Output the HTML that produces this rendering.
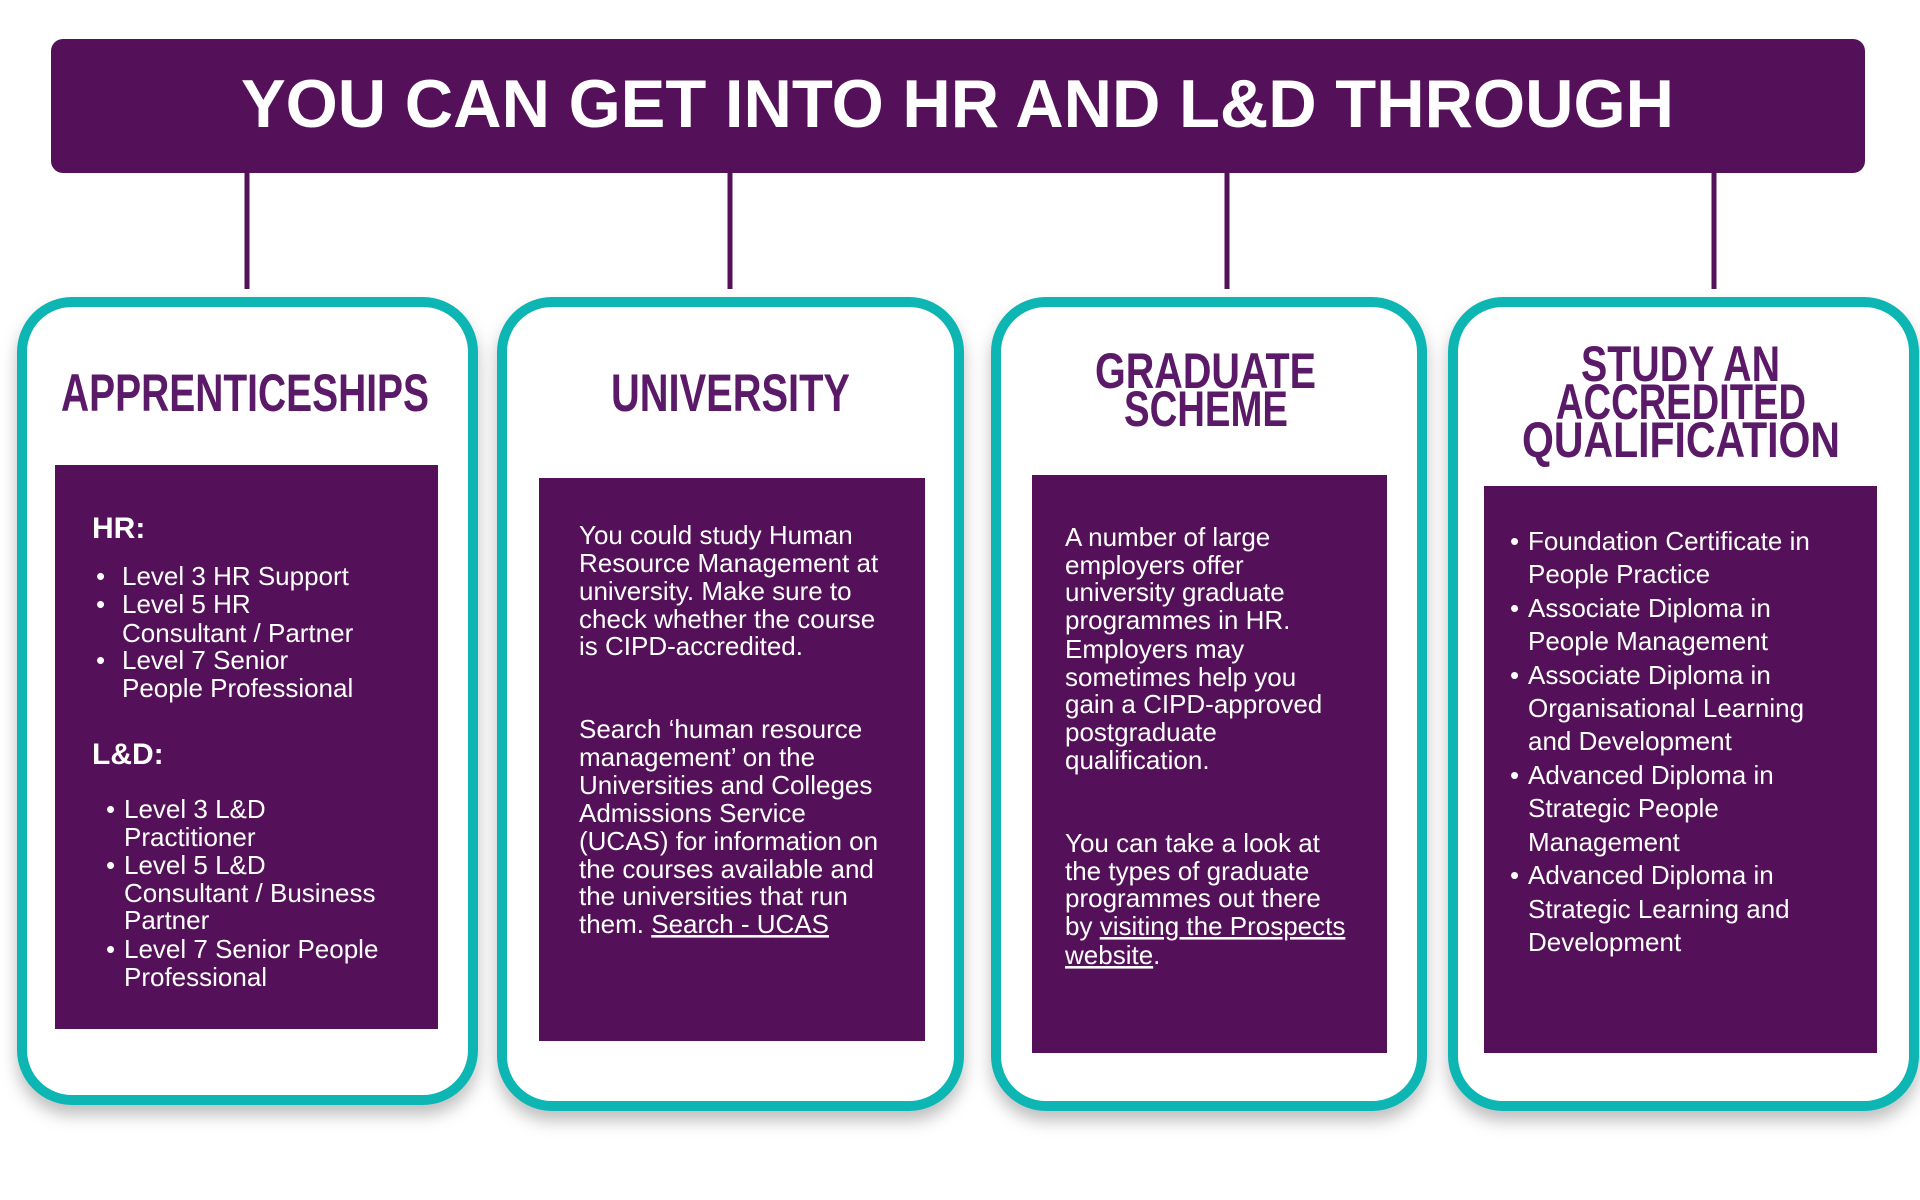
<!DOCTYPE html>
<html><head><meta charset="utf-8"><style>
html,body{margin:0;padding:0;background:#fff;width:1920px;height:1200px;overflow:hidden}
svg{display:block}
.t{font-family:"Liberation Sans",Arial,sans-serif;font-size:26px;fill:#fff}
.h{font-family:"Liberation Sans",Arial,sans-serif;font-weight:bold;fill:#5a1a68}
</style></head><body>
<svg width="1920" height="1200" viewBox="0 0 1920 1200" xmlns="http://www.w3.org/2000/svg">
<defs>
<filter id="sh" x="-10%" y="-10%" width="120%" height="120%"><feDropShadow dx="0" dy="10" stdDeviation="8" flood-color="#000" flood-opacity="0.25"/></filter>
</defs>
<rect x="51" y="39" width="1814" height="134" rx="12" fill="#541058"/>
<text x="241" y="127" font-family="Liberation Sans, Arial, sans-serif" font-weight="bold" font-size="68" fill="#fff" textLength="1433" lengthAdjust="spacingAndGlyphs">YOU CAN GET INTO HR AND L&amp;D THROUGH</text>
<g stroke="#541058" stroke-width="5">
<line x1="247" y1="173" x2="247" y2="289"/><line x1="730" y1="173" x2="730" y2="289"/>
<line x1="1227" y1="173" x2="1227" y2="289"/><line x1="1714" y1="173" x2="1714" y2="289"/>
</g>
<g fill="#fff" stroke="#0bb5b3" stroke-width="10" filter="url(#sh)">
<rect x="22" y="302" width="451" height="798" rx="50"/>
<rect x="502" y="302" width="457" height="804" rx="50"/>
<rect x="996" y="302" width="426" height="804" rx="50"/>
<rect x="1453" y="302" width="461" height="804" rx="50"/>
</g>
<g fill="#541058">
<rect x="55" y="465" width="383" height="564"/>
<rect x="539" y="478" width="386" height="563"/>
<rect x="1032" y="475" width="355" height="578"/>
<rect x="1484" y="486" width="393" height="567"/>
</g>
<text class="h" x="61" y="411" font-size="53" textLength="368" lengthAdjust="spacingAndGlyphs">APPRENTICESHIPS</text>
<text class="h" x="611" y="411" font-size="53" textLength="239" lengthAdjust="spacingAndGlyphs">UNIVERSITY</text>
<text class="h" x="1095" y="388" font-size="50" textLength="221" lengthAdjust="spacingAndGlyphs">GRADUATE</text>
<text class="h" x="1124" y="426" font-size="50" textLength="164" lengthAdjust="spacingAndGlyphs">SCHEME</text>
<text class="h" x="1581" y="381" font-size="50" textLength="199" lengthAdjust="spacingAndGlyphs">STUDY AN</text>
<text class="h" x="1556" y="419" font-size="50" textLength="250" lengthAdjust="spacingAndGlyphs">ACCREDITED</text>
<text class="h" x="1522" y="457" font-size="50" textLength="318" lengthAdjust="spacingAndGlyphs">QUALIFICATION</text>

<g class="t">
<text x="92" y="538" font-weight="bold" font-size="30">HR:</text>
<text x="96" y="585">•</text><text x="122" y="585">Level 3 HR Support</text>
<text x="96" y="613">•</text><text x="122" y="613">Level 5 HR</text>
<text x="122" y="642">Consultant / Partner</text>
<text x="96" y="669">•</text><text x="122" y="669">Level 7 Senior</text>
<text x="122" y="697">People Professional</text>
<text x="92" y="764" font-weight="bold" font-size="30">L&amp;D:</text>
<text x="106" y="818">•</text><text x="124" y="818">Level 3 L&amp;D</text>
<text x="124" y="846">Practitioner</text>
<text x="106" y="874">•</text><text x="124" y="874">Level 5 L&amp;D</text>
<text x="124" y="902">Consultant / Business</text>
<text x="124" y="929">Partner</text>
<text x="106" y="958">•</text><text x="124" y="958">Level 7 Senior People</text>
<text x="124" y="986">Professional</text>

<text x="579" y="544">You could study Human</text>
<text x="579" y="572">Resource Management at</text>
<text x="579" y="600">university. Make sure to</text>
<text x="579" y="628">check whether the course</text>
<text x="579" y="655">is CIPD-accredited.</text>
<text x="579" y="738">Search ‘human resource</text>
<text x="579" y="766">management’ on the</text>
<text x="579" y="794">Universities and Colleges</text>
<text x="579" y="822">Admissions Service</text>
<text x="579" y="850">(UCAS) for information on</text>
<text x="579" y="878">the courses available and</text>
<text x="579" y="905">the universities that run</text>
<text x="579" y="933">them. <tspan text-decoration="underline">Search - UCAS</tspan></text>

<text x="1065" y="546">A number of large</text>
<text x="1065" y="574">employers offer</text>
<text x="1065" y="601">university graduate</text>
<text x="1065" y="629">programmes in HR.</text>
<text x="1065" y="658">Employers may</text>
<text x="1065" y="686">sometimes help you</text>
<text x="1065" y="713">gain a CIPD-approved</text>
<text x="1065" y="741">postgraduate</text>
<text x="1065" y="769">qualification.</text>
<text x="1065" y="852">You can take a look at</text>
<text x="1065" y="880">the types of graduate</text>
<text x="1065" y="907">programmes out there</text>
<text x="1065" y="935">by <tspan text-decoration="underline">visiting the Prospects</tspan></text>
<text x="1065" y="964"><tspan text-decoration="underline">website</tspan>.</text>

<text x="1510" y="550">•</text><text x="1528" y="550">Foundation Certificate in</text>
<text x="1528" y="583">People Practice</text>
<text x="1510" y="617">•</text><text x="1528" y="617">Associate Diploma in</text>
<text x="1528" y="650">People Management</text>
<text x="1510" y="684">•</text><text x="1528" y="684">Associate Diploma in</text>
<text x="1528" y="717">Organisational Learning</text>
<text x="1528" y="750">and Development</text>
<text x="1510" y="784">•</text><text x="1528" y="784">Advanced Diploma in</text>
<text x="1528" y="817">Strategic People</text>
<text x="1528" y="851">Management</text>
<text x="1510" y="884">•</text><text x="1528" y="884">Advanced Diploma in</text>
<text x="1528" y="918">Strategic Learning and</text>
<text x="1528" y="951">Development</text>
</g>
</svg>
</body></html>
